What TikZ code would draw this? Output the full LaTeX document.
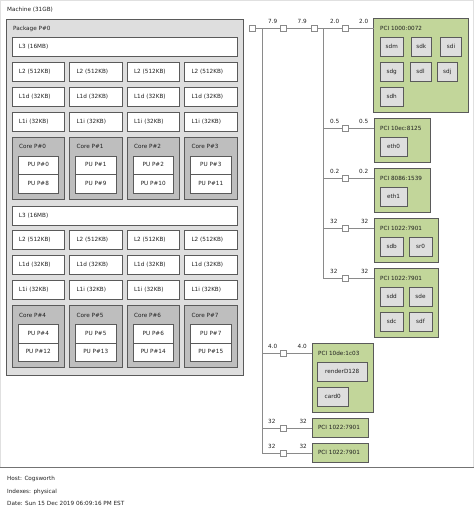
\documentclass[tikz,border=0pt]{standalone}
\usepackage{fontspec}
\setmainfont{DejaVu Sans}
\definecolor{bordc}{HTML}{5A5A5A}
\definecolor{pkgf}{HTML}{DEDEDE}
\definecolor{coref}{HTML}{BEBEBE}
\definecolor{pcig}{HTML}{C2D69A}
\definecolor{osg}{HTML}{DEDEDE}
\definecolor{linec}{HTML}{8A8A8A}
\definecolor{txtc}{HTML}{202020}
\begin{document}
\begin{tikzpicture}[x=1pt,y=-1pt,
  every node/.style={font=\fontsize{5.7}{6.5}\selectfont, text=txtc, text height=4.3pt, text depth=1.3pt},
  boxbase/.style={draw=bordc, line width=0.8pt, inner sep=0pt, outer sep=0pt, anchor=north west},
  machine/.style={draw=black!12, line width=0.8pt, fill=white, inner sep=0pt, outer sep=0pt, anchor=north west, minimum width=473pt, minimum height=466.5pt},
  pkgbox/.style={boxbase, fill=pkgf, minimum width=237pt, minimum height=356pt},
  cache/.style={boxbase, fill=white, minimum width=52.5pt, minimum height=19pt, text width=38.5pt, inner xsep=7pt, align=left},
  wide/.style={cache, minimum width=225pt, text width=211pt},
  corebox/.style={boxbase, fill=coref, minimum width=52.5pt, minimum height=62pt},
  pu/.style={boxbase, fill=white, minimum width=40.5pt, minimum height=18.5pt, align=center},
  ttl/.style={anchor=west, inner sep=0pt},
  pcibox/.style={boxbase, fill=pcig},
  pcione/.style={boxbase, fill=pcig, minimum width=56pt, minimum height=19pt, text width=44pt, inner xsep=6pt, align=left},
  osdev/.style={boxbase, fill=osg, minimum height=19pt, align=center},
  bridge/.style={draw=linec, line width=0.8pt, fill=white, minimum size=6pt, inner sep=0pt, anchor=center},
  wire/.style={draw=linec, line width=0.8pt},
  spdl/.style={anchor=west, inner sep=0pt},
  spdr/.style={anchor=east, inner sep=0pt}
]
\useasboundingbox (0,0) rectangle (474,512);
% machine
\node[machine] (mach) at (0.5,0.5) {};
\node[ttl] (macht) at (7,10) {Machine (31GB)};
% package
\node[pkgbox] (pkg) at (6,19) {};
\node[ttl] (pkgt) at (13,29) {Package P\#0};
\foreach \b/\dy in {0/0,1/168.5}{
  \node[wide] (l3-\b) at (12,37.5+\dy) {L3 (16MB)};
  \foreach \c in {0,...,3}{
    \pgfmathsetmacro\xx{12+57.5*\c}
    \pgfmathtruncatemacro\core{\c+4*\b}
    \pgfmathtruncatemacro\pub{\core+8}
    \node[cache] (l2-\core) at (\xx,62+\dy) {L2 (512KB)};
    \node[cache] (l1d-\core) at (\xx,87+\dy) {L1d (32KB)};
    \node[cache] (l1i-\core) at (\xx,112+\dy) {L1i (32KB)};
    \node[corebox] (core-\core) at (\xx,137+\dy) {};
    \node[ttl] (coret-\core) at (\xx+7,147+\dy) {Core P\#\core};
    \node[pu] (pua-\core) at (\xx+6,156+\dy) {PU P\#\core};
    \node[pu] (pub-\core) at (\xx+6,174.5+\dy) {PU P\#\pub};
  }
}
% PCI boxes (right bus)
\node[pcibox, minimum width=94.5pt, minimum height=94pt] (p1) at (373.5,18) {};
\node[ttl] (p1t) at (380,29) {PCI 1000:0072};
\node[osdev, minimum width=23.5pt] (sdm) at (380,37) {sdm};
\node[osdev, minimum width=19.5pt] (sdk) at (411.5,37) {sdk};
\node[osdev, minimum width=21pt] (sdi) at (440.5,37) {sdi};
\node[osdev, minimum width=23.5pt] (sdg) at (380,62) {sdg};
\node[osdev, minimum width=21pt] (sdl) at (410,62) {sdl};
\node[osdev, minimum width=20.5pt] (sdj) at (437,62) {sdj};
\node[osdev, minimum width=23.5pt] (sdh) at (380,87) {sdh};

\node[pcibox, minimum width=56pt, minimum height=44pt] (p2) at (374,118) {};
\node[ttl] (p2t) at (380,128.5) {PCI 10ec:8125};
\node[osdev, minimum width=27pt] (eth0) at (380,137) {eth0};

\node[pcibox, minimum width=56pt, minimum height=44pt] (p3) at (374,168) {};
\node[ttl] (p3t) at (380,178.5) {PCI 8086:1539};
\node[osdev, minimum width=27pt] (eth1) at (380,187) {eth1};

\node[pcibox, minimum width=64.5pt, minimum height=44pt] (p4) at (374,218) {};
\node[ttl] (p4t) at (380,228.5) {PCI 1022:7901};
\node[osdev, minimum width=23.5pt] (sdb) at (380,237) {sdb};
\node[osdev, minimum width=23pt] (sr0) at (409,237) {sr0};

\node[pcibox, minimum width=64.5pt, minimum height=69pt] (p5) at (374,268) {};
\node[ttl] (p5t) at (380,278.5) {PCI 1022:7901};
\node[osdev, minimum width=23.5pt] (sdd) at (380,287) {sdd};
\node[osdev, minimum width=23pt] (sde) at (409,287) {sde};
\node[osdev, minimum width=23.5pt] (sdc) at (380,312) {sdc};
\node[osdev, minimum width=23pt] (sdf) at (409,312) {sdf};

% PCI boxes (left bus)
\node[pcibox, minimum width=61pt, minimum height=69pt] (p6) at (312,343) {};
\node[ttl] (p6t) at (318,353.5) {PCI 10de:1c03};
\node[osdev, minimum width=49.5pt] (rd) at (317.5,362) {renderD128};
\node[osdev, minimum width=30.5pt] (card0) at (317.5,387) {card0};
\node[pcione] (p7) at (312,418.5) {PCI 1022:7901};
\node[pcione] (p8) at (312,443.5) {PCI 1022:7901};

% bridges and buses
\node[bridge] (hb) at (252.5,28) {};
\coordinate (bus1top) at (262,28);
\coordinate (bus1bot) at (262,453);
\draw[wire] (hb.east) -- (bus1top) -- (bus1bot);
\node[bridge] (lk0) at (283,28) {};
\node[bridge] (pb) at (314.5,28) {};
\draw[wire] (bus1top) -- (lk0.west);
\draw[wire] (lk0.east) -- (pb.west);
\node[spdl] (s0a) at (268,22) {7.9};
\node[spdr] (s0b) at (307,22) {7.9};
\coordinate (bus2top) at (323,28);
\coordinate (bus2bot) at (323,278);
\draw[wire] (pb.east) -- (bus2top) -- (bus2bot);

\foreach \y/\s/\n in {28/2.0/p1,128/0.5/p2,178/0.2/p3,228/32/p4,278/32/p5}{
  \coordinate (j-\n) at (323,\y);
  \node[bridge] (lk-\n) at (345.5,\y) {};
  \draw[wire] (j-\n) -- (lk-\n.west);
  \draw[wire] (lk-\n.east) -- (lk-\n.east -| \n.west);
  \node[spdl] (sa-\n) at (330,\y-6) {\s};
  \node[spdr] (sb-\n) at (368.5,\y-6) {\s};
}
\foreach \y/\s/\n in {353/4.0/p6,428/32/p7,453/32/p8}{
  \coordinate (j-\n) at (262,\y);
  \node[bridge] (lk-\n) at (283.5,\y) {};
  \draw[wire] (j-\n) -- (lk-\n.west);
  \draw[wire] (lk-\n.east) -- (lk-\n.east -| \n.west);
  \node[spdl] (sa-\n) at (268,\y-6) {\s};
  \node[spdr] (sb-\n) at (307,\y-6) {\s};
}

% legend
\coordinate (sepl) at (0,467.5);
\coordinate (sepr) at (474,467.5);
\draw[draw=black!55, line width=1.5pt] (sepl) -- (sepr);
\node[ttl] (host) at (7,479) {Host: Cogsworth};
\node[ttl] (idx) at (7,491.5) {Indexes: physical};
\node[ttl] (date) at (7,503.5) {Date: Sun 15 Dec 2019 06:09:16 PM EST};
\end{tikzpicture}
\end{document}
